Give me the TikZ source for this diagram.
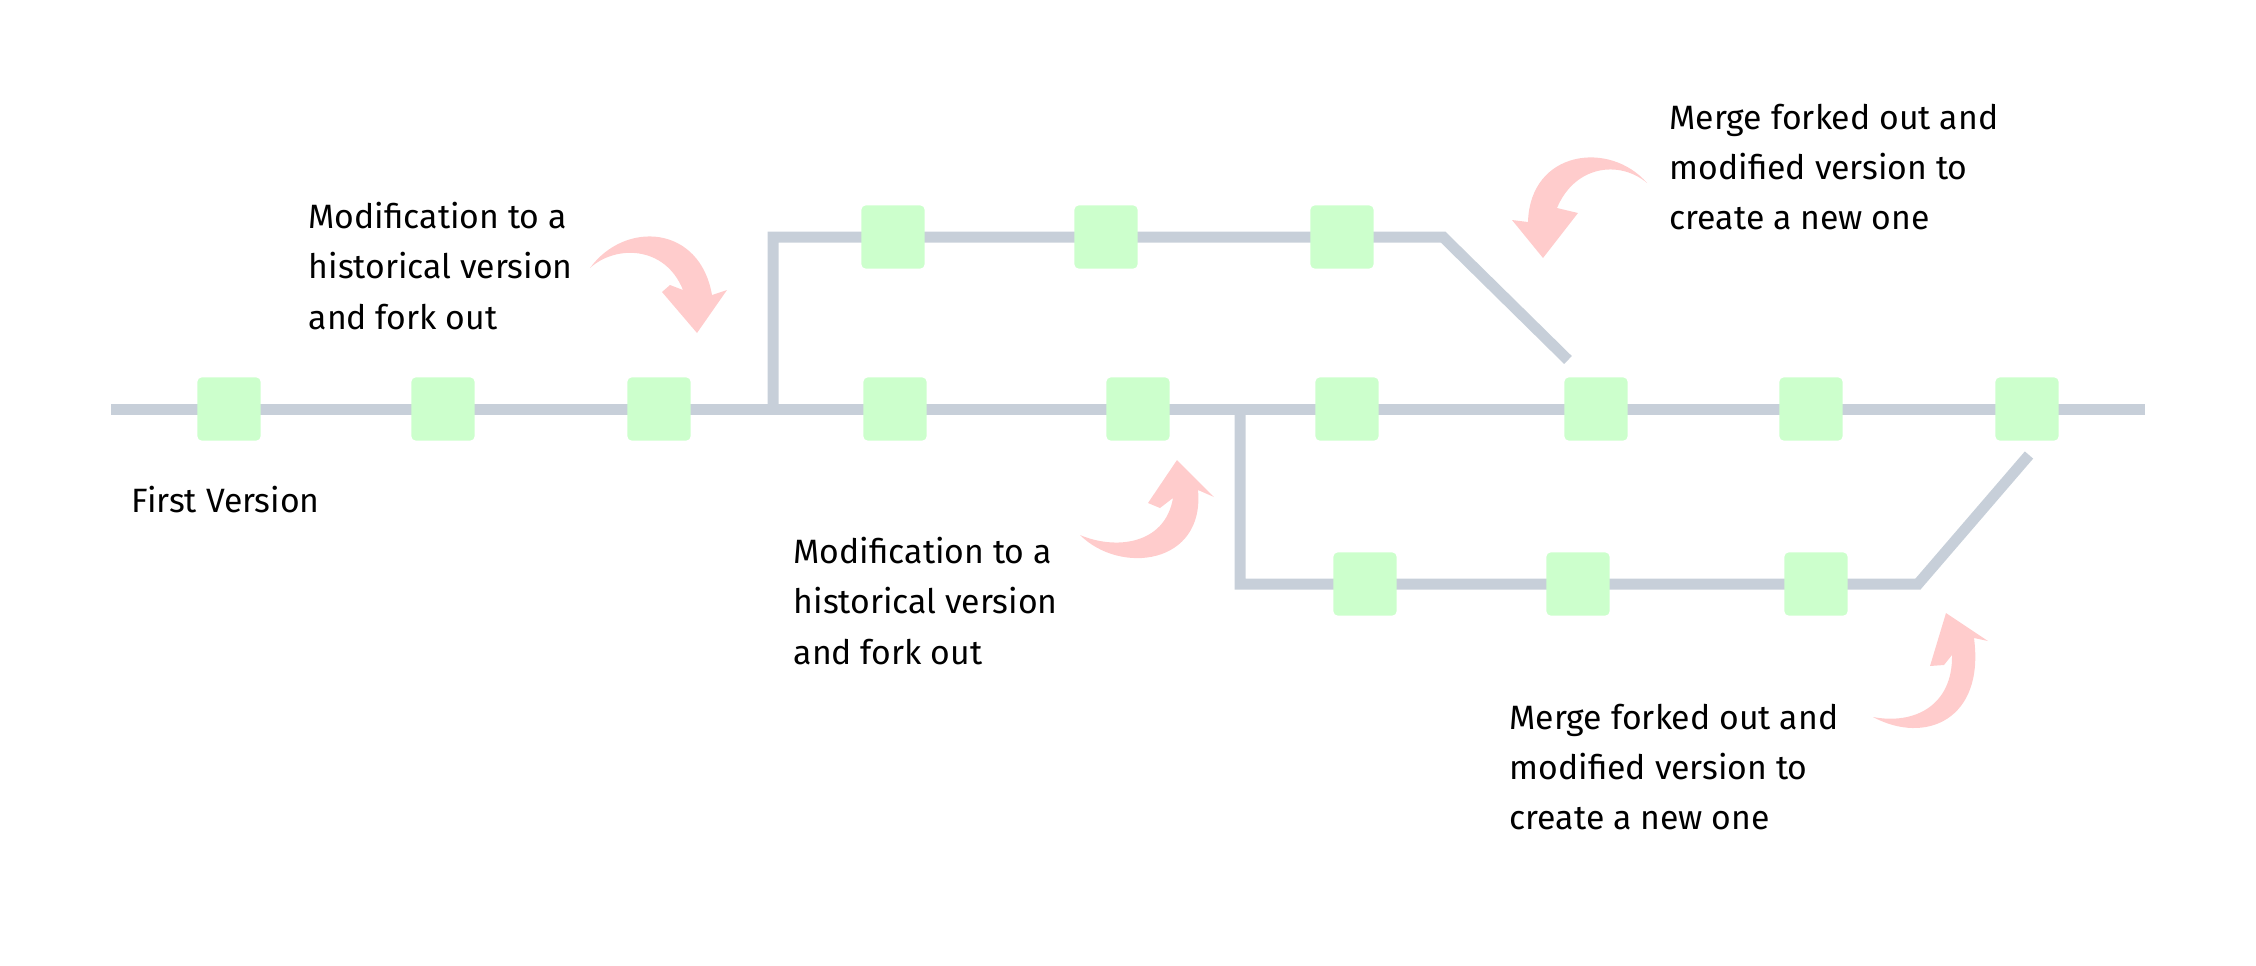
\documentclass[tikz,border=0pt]{standalone}
\usepackage{fontspec}
\setmainfont{Fira Sans}
\usetikzlibrary{positioning,backgrounds}
\definecolor{linegray}{RGB}{199,207,217}
\definecolor{boxgreen}{RGB}{204,255,204}
\definecolor{swooshpink}{RGB}{255,204,204}

\begin{document}
\begin{tikzpicture}[x=0.01cm,y=-0.01cm,
    version/.style={fill=boxgreen, rounded corners=1.2pt, minimum size=0.63cm, inner sep=0pt},
    branch/.style={draw=linegray, line width=0.11cm},
    note/.style={anchor=west, align=left, inner sep=0pt, font=\fontsize{9.6}{14.3}\selectfont},
    swoosh/.style={fill=swooshpink}]
    \useasboundingbox (0,0) rectangle (2256,966);

    % main line
    \coordinate (m0) at (111,409);
    \coordinate (m1) at (2145,409);
    \node[version] (v1) at (229,409) {};
    \node[version] (v2) at (443,409) {};
    \node[version] (v3) at (659,409) {};
    \node[version] (v4) at (895,409) {};
    \node[version] (v5) at (1138,409) {};
    \node[version] (v6) at (1347,409) {};
    \node[version] (v7) at (1596,409) {};
    \node[version] (v8) at (1811,409) {};
    \node[version] (v9) at (2027,409) {};

    % upper fork
    \coordinate (fa) at (773,409);
    \coordinate (fa top) at (773,237);
    \coordinate (ta) at (1443,237);
    \coordinate (ma) at (1568,360);
    \node[version] (t1) at (893,237) {};
    \node[version] (t2) at (1106,237) {};
    \node[version] (t3) at (1342,237) {};

    % lower fork
    \coordinate (fb) at (1240,409);
    \coordinate (fb bot) at (1240,584);
    \coordinate (tb) at (1918,584);
    \coordinate (mb) at (2029,455);
    \node[version] (b1) at (1365,584) {};
    \node[version] (b2) at (1578,584) {};
    \node[version] (b3) at (1816,584) {};

    \begin{scope}[on background layer]
        \draw[branch] (m0) -- (m1);
        \draw[branch] (fa) -- (fa top) -- (ta) -- (ma);
        \draw[branch] (fb) -- (fb bot) -- (tb) -- (mb);
    \end{scope}

    % labels
    \node[note] (first) at (131,500) {First Version};
    \node[note] (fork1) at (308,266) {Modification to a\\historical version\\and fork out};
    \node[note] (fork2) at (793,601) {Modification to a\\historical version\\and fork out};
    \node[note] (merge1) at (1669,167) {Merge forked out and\\modified version to\\create a new one};
    \node[note] (merge2) at (1509,767) {Merge forked out and\\modified version to\\create a new one};

    % pink swooshes
    \fill[swoosh] (590,268) .. controls (625,220) and (700,225) .. (712,295) -- (727,290) -- (697,333)
        -- (662,292) -- (670,285) -- (683,290) .. controls (665,245) and (615,245) .. cycle;
    \fill[swoosh] (1080,535) .. controls (1120,575) and (1205,565) .. (1198,490) -- (1214,497) -- (1177,460)
        -- (1148,503) -- (1160,508) -- (1173,498) .. controls (1165,545) and (1115,550) .. cycle;
    \fill[swoosh] (1647,183) .. controls (1610,140) and (1530,150) .. (1528,222) -- (1512,220) -- (1543,258)
        -- (1578,213) -- (1557,208) .. controls (1575,165) and (1620,160) .. cycle;
    \fill[swoosh] (1873,717) .. controls (1925,745) and (1985,720) .. (1974,638) -- (1988,641) -- (1946,613)
        -- (1930,666) -- (1944,665) -- (1952,655) .. controls (1953,705) and (1915,725) .. cycle;
\end{tikzpicture}
\end{document}
